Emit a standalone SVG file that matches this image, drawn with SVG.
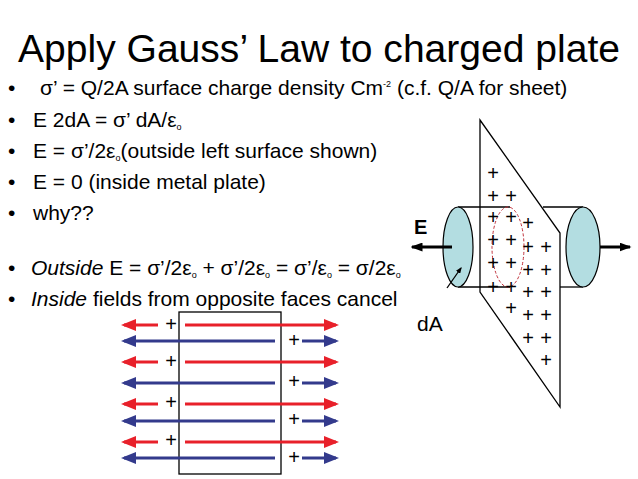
<svg xmlns="http://www.w3.org/2000/svg" width="638" height="479" viewBox="0 0 638 479">
<style>
text{font-family:"Liberation Sans",Arial,sans-serif;fill:#000}
.b{font-size:21px}
.sub{font-size:9px}
.p{font-size:20px;text-anchor:middle;fill:#000}
.r{stroke:#e8202a;stroke-width:3;fill:none}
.u{stroke:#333a8c;stroke-width:3;fill:none}
.k{stroke:#000;stroke-width:1.3;fill:none}
</style>
<defs>
<marker id="mr" markerWidth="5" markerHeight="4" refX="4" refY="2" orient="auto" markerUnits="strokeWidth"><path d="M0,0L5,2L0,4z" fill="#e8202a"/></marker>
<marker id="mu" markerWidth="5" markerHeight="4" refX="4" refY="2" orient="auto" markerUnits="strokeWidth"><path d="M0,0L5,2L0,4z" fill="#333a8c"/></marker>
<marker id="mk" markerWidth="5" markerHeight="4" refX="4" refY="2" orient="auto" markerUnits="strokeWidth"><path d="M0,0L5,2L0,4z" fill="#000"/></marker>
<marker id="mt" markerWidth="4" markerHeight="3" refX="3.5" refY="1.5" orient="auto" markerUnits="strokeWidth"><path d="M0,0L4,1.5L0,3z" fill="#000"/></marker>
</defs>
<g id="title"><text x="18" y="62" font-size="38" textLength="602" lengthAdjust="spacingAndGlyphs">Apply Gauss’ Law to charged plate</text></g>
<g id="bullets">
<text class="b" x="8" y="95">•</text><text class="b" x="40" y="95">σ’ = Q/2A surface charge density Cm<tspan class="sub" dy="-8">-2</tspan><tspan dy="8"> (c.f. Q/A for sheet)</tspan></text>
<text class="b" x="8" y="127">•</text><text class="b" x="33" y="127">E 2dA = σ’ dA/ε<tspan class="sub" dy="3">o</tspan></text>
<text class="b" x="8" y="158">•</text><text class="b" x="33" y="158">E = σ’/2ε<tspan class="sub" dy="3">o</tspan><tspan dy="-3">(outside left surface shown)</tspan></text>
<text class="b" x="8" y="189">•</text><text class="b" x="33" y="189">E = 0 (inside metal plate)</text>
<text class="b" x="8" y="220">•</text><text class="b" x="33" y="220">why??</text>
<text class="b" x="8" y="275">•</text><text class="b" x="31" y="275"><tspan font-style="italic">Outside</tspan> E = σ’/2ε<tspan class="sub" dy="3">o</tspan><tspan dy="-3"> + σ’/2ε</tspan><tspan class="sub" dy="3">o</tspan><tspan dy="-3"> = σ’/ε</tspan><tspan class="sub" dy="3">o</tspan><tspan dy="-3"> = σ/2ε</tspan><tspan class="sub" dy="3">o</tspan></text>
<text class="b" x="8" y="306">•</text><text class="b" x="31" y="306"><tspan font-style="italic">Inside</tspan> fields from opposite faces cancel</text>
</g>
<g id="slab">
<rect x="179" y="312" width="102" height="162" fill="none" stroke="#000" stroke-width="1.3"/>
<text class="p" x="171" y="331">+</text><text class="p" x="171" y="368">+</text><text class="p" x="171" y="409">+</text><text class="p" x="171" y="447">+</text>
<text class="p" x="294" y="347">+</text><text class="p" x="294" y="388">+</text><text class="p" x="294" y="426">+</text><text class="p" x="294" y="464">+</text>
</g>
<g id="connectors">
<line class="r" x1="158" y1="325" x2="124" y2="325" marker-end="url(#mr)"/>
<line class="r" x1="185" y1="325" x2="336" y2="325" marker-end="url(#mr)"/>
<line class="r" x1="158" y1="362" x2="124" y2="362" marker-end="url(#mr)"/>
<line class="r" x1="185" y1="362" x2="336" y2="362" marker-end="url(#mr)"/>
<line class="r" x1="158" y1="404" x2="124" y2="404" marker-end="url(#mr)"/>
<line class="r" x1="185" y1="404" x2="336" y2="404" marker-end="url(#mr)"/>
<line class="r" x1="158" y1="442" x2="124" y2="442" marker-end="url(#mr)"/>
<line class="r" x1="185" y1="442" x2="336" y2="442" marker-end="url(#mr)"/>
<line class="u" x1="275" y1="341" x2="124" y2="341" marker-end="url(#mu)"/>
<line class="u" x1="302" y1="341" x2="336" y2="341" marker-end="url(#mu)"/>
<line class="u" x1="275" y1="383" x2="124" y2="383" marker-end="url(#mu)"/>
<line class="u" x1="302" y1="383" x2="336" y2="383" marker-end="url(#mu)"/>
<line class="u" x1="275" y1="421" x2="124" y2="421" marker-end="url(#mu)"/>
<line class="u" x1="302" y1="421" x2="336" y2="421" marker-end="url(#mu)"/>
<line class="u" x1="275" y1="458" x2="124" y2="458" marker-end="url(#mu)"/>
<line class="u" x1="302" y1="458" x2="336" y2="458" marker-end="url(#mu)"/>
</g>
<g id="plate">
<path class="k" d="M480,120 L560,233 L560,407 L480,292 Z" fill="#fff"/>
<line class="k" x1="458" y1="207" x2="510" y2="207"/>
<line class="k" x1="458" y1="287" x2="510" y2="287"/>
<line class="k" x1="543" y1="207" x2="583" y2="207"/>
<line class="k" x1="560" y1="287" x2="583" y2="287"/>
<ellipse cx="508" cy="247" rx="16" ry="40" fill="none" stroke="#c0303a" stroke-width="1" stroke-dasharray="3,2"/>
<text class="p" x="493" y="180">+</text><text class="p" x="493" y="203">+</text><text class="p" x="493" y="224">+</text><text class="p" x="493" y="247">+</text><text class="p" x="493" y="270">+</text><text class="p" x="493" y="294">+</text>
<text class="p" x="511" y="203">+</text><text class="p" x="511" y="224">+</text><text class="p" x="511" y="247">+</text><text class="p" x="511" y="270">+</text><text class="p" x="511" y="294">+</text><text class="p" x="511" y="315">+</text>
<text class="p" x="528" y="230">+</text><text class="p" x="528" y="254">+</text><text class="p" x="528" y="277">+</text><text class="p" x="528" y="299">+</text><text class="p" x="528" y="322">+</text><text class="p" x="528" y="345">+</text>
<text class="p" x="546" y="254">+</text><text class="p" x="546" y="277">+</text><text class="p" x="546" y="299">+</text><text class="p" x="546" y="322">+</text><text class="p" x="546" y="345">+</text><text class="p" x="546" y="367">+</text>
</g>
<g id="left-cap">
<ellipse cx="458" cy="247" rx="15" ry="40" fill="#b3dde1" stroke="#000" stroke-width="1.2"/>
<line x1="452" y1="247" x2="412" y2="247" stroke="#000" stroke-width="3" marker-end="url(#mt)"/>
<text x="414" y="234" font-size="20" font-weight="bold">E</text>
<line x1="447" y1="288" x2="461" y2="268" stroke="#000" stroke-width="1.3" marker-end="url(#mk)"/>
<text x="417" y="331" font-size="21">dA</text>
</g>
<g id="right-cap">
<ellipse cx="583" cy="247" rx="17" ry="40" fill="#b3dde1" stroke="#000" stroke-width="1.2"/>
<line x1="600" y1="247" x2="630" y2="247" stroke="#000" stroke-width="3" marker-end="url(#mt)"/>
</g>
</svg>
